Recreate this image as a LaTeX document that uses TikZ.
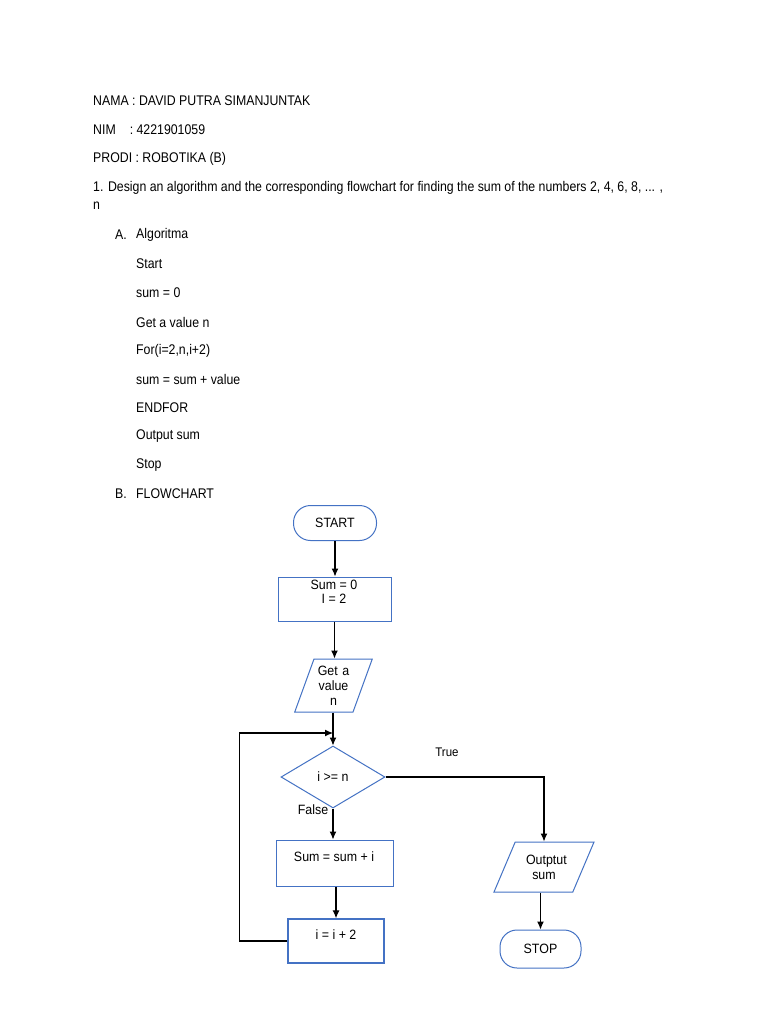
\documentclass[tikz,border=0pt]{standalone}
\usepackage{fontspec}
\setmainfont{Liberation Sans}[FakeStretch=0.88]
\newfontfamily\fcfont{Liberation Sans}[FakeStretch=0.92]
\usetikzlibrary{shapes.geometric,arrows.meta}
\definecolor{fcblue}{RGB}{68,114,196}
\begin{document}
\begin{tikzpicture}[x=1pt,y=-1pt,
  txt/.style={anchor=west,inner sep=0pt,font=\fontsize{14}{16}\selectfont},
  fc/.style={draw=fcblue,line width=1pt,font=\fcfont\fontsize{13.5}{15}\selectfont,align=center},
  arr/.style={-{Latex[length=8pt,width=7pt]},line width=1.1pt}]
\useasboundingbox (0,0) rectangle (768,1024);
\fill[white] (0,0) rectangle (768,1024);
\node[txt] (t1) at (93,101) {NAMA : DAVID PUTRA SIMANJUNTAK};
\node[txt] (t2) at (93,130) {NIM\hspace{14pt}: 4221901059};
\node[txt] (t3) at (93,159) {PRODI : ROBOTIKA (B)};
\node[txt] (t4) at (93,188) {1. Design an algorithm and the corresponding flowchart for finding the sum of the numbers 2, 4, 6, 8, ... ,};
\node[txt] (t5) at (93,206) {n};
\node[txt] (t6) at (115,235) {A.};
\node[txt] (t7) at (136,235) {Algoritma};
\node[txt] (t8) at (136,264) {Start};
\node[txt] (t9) at (136,293) {sum = 0};
\node[txt] (t10) at (136,322) {Get a value n};
\node[txt] (t11) at (136,351) {For(i=2,n,i+2)};
\node[txt] (t12) at (136,379) {sum = sum + value};
\node[txt] (t13) at (136,408) {ENDFOR};
\node[txt] (t14) at (136,436) {Output sum};
\node[txt] (t15) at (136,465) {Stop};
\node[txt] (t16) at (115,494) {B.};
\node[txt] (t17) at (136,494) {FLOWCHART};

\node[fc,rounded corners=17pt,minimum width=83pt,minimum height=35pt] (start) at (335,523) {START};
\node[fc,minimum width=113pt,minimum height=44pt] (init) at (334.5,599) {};
\node[font=\fcfont\fontsize{13.5}{14}\selectfont,align=center,inner sep=0pt] (initt) at (334,592) {Sum = 0\\I = 2};
\node[fc,trapezium,trapezium left angle=70,trapezium right angle=110,minimum height=53pt,text width=34pt,inner xsep=0pt] (get) at (333.5,685.5) {Get a\\value n};
\node[fc,diamond,aspect=1.67,minimum width=104pt,minimum height=62pt,inner sep=0pt] (dec) at (333,777) {i >= n};
\node[fc,minimum width=117pt,minimum height=46pt] (sum) at (334.5,863) {};
\node[font=\fcfont\fontsize{13.5}{15}\selectfont,inner sep=0pt] (sumt) at (334,857) {Sum = sum + i};
\node[fc,minimum width=96pt,minimum height=44pt,line width=1.4pt] (inc) at (336,941) {};
\node[font=\fcfont\fontsize{13.5}{15}\selectfont,inner sep=0pt] (inct) at (336,935) {i = i + 2};
\node[fc,trapezium,trapezium left angle=67,trapezium right angle=113,minimum height=50pt,text width=36pt,inner xsep=0pt] (out) at (544,867) {Outptut\\sum};
\node[fc,rounded corners=17pt,minimum width=81pt,minimum height=38pt] (stop) at (540.5,949) {STOP};
\node[font=\fcfont\fontsize{12.5}{14}\selectfont,inner sep=0pt] (true) at (447,752) {True};
\node[font=\fcfont\fontsize{13.5}{15}\selectfont,inner sep=0pt] (false) at (313,810) {False};
\coordinate (j) at (333,733);

\draw[arr] (start.south) -- (init.north -| start.south);
\draw[arr] (init.south) -- (get.north -| init.south);
\draw[line width=1.1pt] (get.south -| dec.north) -- (j);
\draw[arr] (j) -- (dec.north);
\draw[arr] (dec.south) -- (sum.north -| dec.south);
\draw[arr] (sum.south -| inc.north) -- (inc.north);
\draw[arr] (inc.west) -- ++(-48,0) |- (j);
\draw[arr] (dec.east) -| (out.north);
\draw[arr] (out.south -| stop.north) -- (stop.north);
\end{tikzpicture}
\end{document}
